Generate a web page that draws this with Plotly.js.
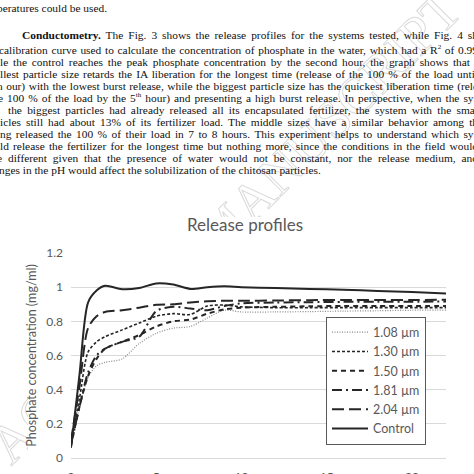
<!DOCTYPE html>
<html lang="en">
<head>
<meta charset="utf-8">
<title>Release profiles</title>
<script src="https://cdn.plot.ly/plotly-3.0.1.min.js" charset="utf-8"></script>
<style>
  html, body { margin:0; padding:0; background:#fff; }
  #page { position:relative; width:474px; height:474px; overflow:hidden; background:#fff; }
  #mark { position:absolute; left:0; top:0; width:700px; height:60px; line-height:60px; text-align:center;
          font-family:"Liberation Serif", serif; font-size:54px; color:transparent;
          -webkit-text-stroke:1px #dadada; white-space:nowrap;
          transform-origin:350px 30px; }
  #chartbg { position:absolute; left:28px; top:217px; width:446px; height:257px; background:#fff; }
  #plot { position:absolute; left:0; top:0; width:474px; height:474px; }
  .ln { position:absolute; white-space:nowrap; font-family:"Liberation Serif","DejaVu Serif",serif;
        font-size:11.4px; line-height:12px; color:#111; }
  .j { text-align:justify; text-align-last:justify; white-space:normal; height:12px; overflow:visible; }
</style>
</head>
<body>
<div id="page">
  <div id="mark">ACCEPTED MANUSCRIPT</div>
  <div id="chartbg"></div>
  <div id="plot"></div>
  <div id="txt"></div>
</div>
<script>
// hours sampled
const hours = [0, 0.5, 1, 1.5, 2, 3, 4, 5, 6, 7, 8, 9, 10, 12, 14, 16, 18, 20, 22];

const conc108 = [0.06, 0.30, 0.47, 0.54, 0.56, 0.58, 0.67, 0.73, 0.76, 0.77, 0.82, 0.865, 0.855, 0.855, 0.857, 0.86, 0.862, 0.865, 0.866];
const conc130 = [0.10, 0.35, 0.62, 0.68, 0.71, 0.75, 0.79, 0.83, 0.845, 0.84, 0.89, 0.895, 0.885, 0.88, 0.88, 0.88, 0.88, 0.88, 0.88];
const conc150 = [0.07, 0.30, 0.48, 0.58, 0.64, 0.68, 0.72, 0.77, 0.80, 0.81, 0.845, 0.87, 0.88, 0.885, 0.888, 0.89, 0.89, 0.89, 0.89];
const conc181 = [0.08, 0.30, 0.50, 0.60, 0.64, 0.68, 0.71, 0.86, 0.885, 0.875, 0.865, 0.89, 0.905, 0.91, 0.912, 0.914, 0.915, 0.915, 0.916];
const conc204 = [0.10, 0.42, 0.76, 0.83, 0.855, 0.865, 0.88, 0.897, 0.90, 0.91, 0.918, 0.92, 0.92, 0.922, 0.924, 0.925, 0.925, 0.925, 0.926];
const concCtrl = [0.06, 0.49, 0.91, 0.98, 1.008, 0.988, 0.995, 1.022, 1.015, 0.99, 1.0, 1.005, 1.0, 0.995, 0.99, 0.985, 0.978, 0.972, 0.963];

const seriesNames = ['1.08 µm', '1.30 µm', '1.50 µm', '1.81 µm', '2.04 µm', 'Control'];
const yTicks = [0, 0.2, 0.4, 0.6, 0.8, 1, 1.2];
const xTicks = [0, 5, 10, 15, 20];

// text of the page above the chart: [left px, center y px, text, justified]
const pageLines = [
  [-3, 8, 'peratures could be used.', false],
  [22, 35, '<b>Conductometry.</b> The Fig. 3 shows the release profiles for the systems tested, while Fig. 4 sh', true],
  [-1, 50, 'calibration curve used to calculate the concentration of phosphate in the water, which had a R<sup style="font-size:7px;line-height:0">2</sup> of 0.99', true],
  [0, 62, 'le the control reaches the peak phosphate concentration by the second hour, the graph shows that t', true],
  [0, 74, 'llest particle size retards the IA liberation for the longest time (release of the 100 % of the load until', true],
  [-3, 86, 'h our) with the lowest burst release, while the biggest particle size has the quickest liberation time (rele', true],
  [-2, 98, 'e 100 % of the load by the 5<sup style="font-size:7px;line-height:0">th</sup> hour) and presenting a high burst release. In perspective, when the sys', true],
  [8, 110, 'the biggest particles had already released all its encapsulated fertilizer, the system with the smal', true],
  [0, 122, 'icles still had about 13% of its fertilizer load. The middle sizes have a similar behavior among th', true],
  [0, 134, 'ng released the 100 % of their load in 7 to 8 hours. This experiment helps to understand which sys', true],
  [0, 146, 'ld release the fertilizer for the longest time but nothing more, since the conditions in the field would', true],
  [-3, 158, 'e different given that the presence of water would not be constant, nor the release medium, and', true],
  [-1, 170, 'nges in the pH would affect the solubilization of the chitosan particles.', false]
];

const txt = document.getElementById('txt');
for (const [lx, cy, t, just] of pageLines) {
  const d = document.createElement('div');
  d.className = just ? 'ln j' : 'ln';
  d.style.left = lx + 'px';
  d.style.top = (cy - 6) + 'px';
  if (just) d.style.width = (478 - lx) + 'px';
  d.innerHTML = t;
  txt.appendChild(d);
}

// watermark centred at (225, 227), running up to the right
const mark = document.getElementById('mark');
mark.style.left = (225 - 350) + 'px';
mark.style.top = (227 - 30) + 'px';
mark.style.transform = 'rotate(-45deg)';

const INK = '#262626';
const styles = [
  {color:'#8a8a8a', width:1.2, dash:'1px,1.5px'},
  {color:INK, width:1.6, dash:'3px,2px'},
  {color:INK, width:2, dash:'5px,4px'},
  {color:INK, width:2, dash:'10px,4px,2px,4px'},
  {color:INK, width:2, dash:'12px,5px'},
  {color:INK, width:2}
];
const allConc = [conc108, conc130, conc150, conc181, conc204, concCtrl];

const traces = allConc.map((c, i) => ({
  x: hours,
  y: c,
  type: 'scatter',
  mode: 'lines',
  name: seriesNames[i],
  legendgroup: 'g' + i,
  line: Object.assign({shape:'spline', smoothing:0.8}, styles[i])
}));

const CHART_FONT = 'Lato, "Open Sans", sans-serif';
const GREY = '#595959';

const layout = {
  width: 474,
  height: 474,
  margin: {l:71, r:28, t:253, b:16},
  paper_bgcolor: 'rgba(0,0,0,0)',
  plot_bgcolor: 'rgba(0,0,0,0)',
  font: {family: CHART_FONT, color: GREY},
  title: {
    text: 'Release profiles',
    font: {family: CHART_FONT, size: 17, color: GREY},
    xref: 'container', yref: 'container',
    x: 0.517, y: 1 - 225/474, xanchor: 'center', yanchor: 'middle'
  },
  xaxis: {
    range: [0, 22],
    tickvals: xTicks,
    showgrid: false,
    zeroline: false,
    showline: true,
    linecolor: '#d9d9d9',
    linewidth: 1,
    ticks: '',
    ticklabelstandoff: 8,
    tickfont: {size: 12, color: GREY}
  },
  yaxis: {
    range: [0, 1.2],
    tickvals: yTicks,
    showgrid: true,
    gridcolor: '#d9d9d9',
    gridwidth: 1,
    zeroline: false,
    showline: false,
    ticks: '',
    ticklabelstandoff: 7,
    tickfont: {size: 12, color: GREY},
    title: {text: 'Phosphate concentration (mg/ml)', font: {size: 12.5, color: GREY}, standoff: 6}
  },
  showlegend: true,
  legend: {
    x: 0.68, y: 0.69, xanchor: 'left', yanchor: 'top',
    bordercolor: GREY, borderwidth: 1, bgcolor: '#fff',
    font: {size: 12.5, color: GREY},
    traceorder: 'normal',
    tracegroupgap: 3.5,
    itemwidth: 36
  }
};

Plotly.newPlot('plot', traces, layout, {displayModeBar: false, staticPlot: true});
</script>
</body>
</html>
